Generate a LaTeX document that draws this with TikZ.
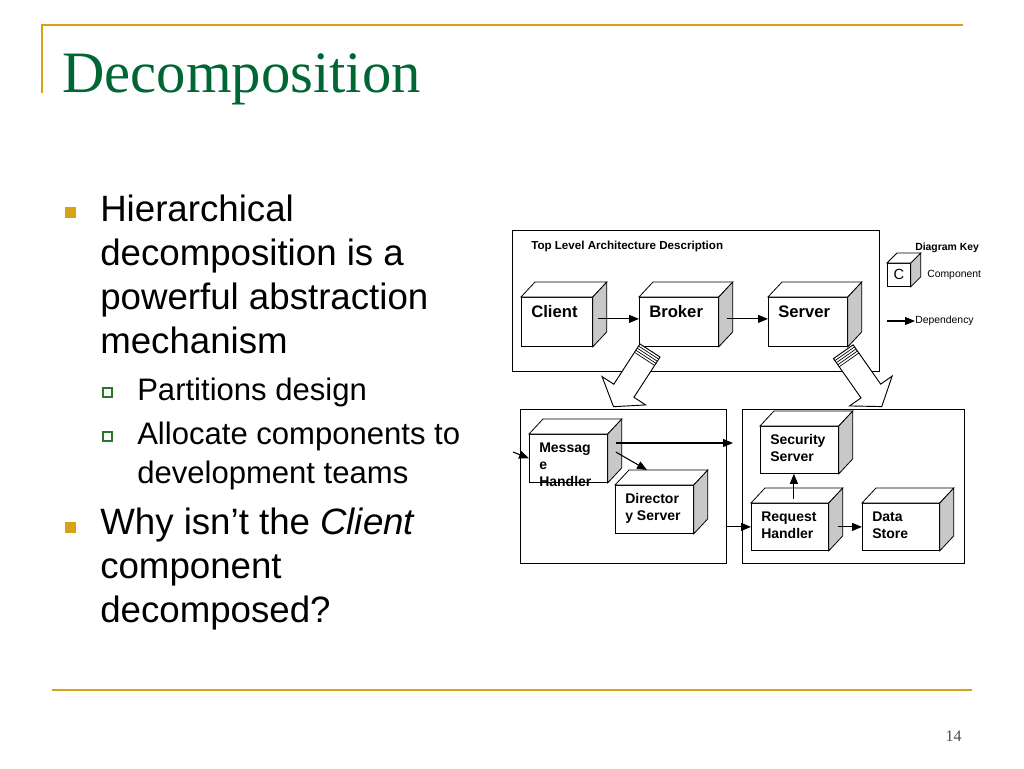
\documentclass[tikz,border=0pt]{standalone}
\usepackage{fontspec}
\setmainfont{Liberation Sans}
\newfontfamily\serif{Liberation Serif}
\usetikzlibrary{calc,arrows.meta}

\definecolor{gold}{RGB}{214,163,23}
\definecolor{titlegreen}{RGB}{0,102,51}
\definecolor{subgreen}{RGB}{40,120,40}
\definecolor{boxgray}{RGB}{200,200,200}

\tikzset{
  dep/.style={-{Triangle[length=7.5pt,width=6pt]}, line width=0.8pt},
  face/.style={draw, fill=white, line width=0.6pt, inner sep=0pt},
  frame/.style={draw, line width=0.6pt, inner sep=0pt, anchor=north west},
  bigname/.style={font=\fontsize{12.5}{15}\selectfont\bfseries},
  smallname/.style={font=\fontsize{10.5}{12.75}\selectfont\bfseries},
  keytext/.style={inner sep=0pt, font=\fontsize{7.8}{9}\selectfont},
  bodytext/.style={anchor=north west, align=left, inner sep=0pt, font=\fontsize{27.5}{33}\selectfont},
  subtext/.style={anchor=north west, align=left, inner sep=0pt, font=\fontsize{23.3}{29.25}\selectfont},
}

% component cube: style, name, x, y, width, height, text
\newcommand{\comp}[7][smallname]{%
  \node[face, anchor=north west, minimum width=#5*0.75pt, minimum height=#6*0.75pt] (#2) at (#3,#4) {};
  \filldraw[fill=white, line width=0.6pt] (#2.north west) -- ++(14,-15) -- ($(#2.north east)+(14,-15)$) -- (#2.north east) -- cycle;
  \filldraw[fill=boxgray, line width=0.6pt] (#2.north east) -- ++(14,-15) -- ($(#2.south east)+(14,-15)$) -- (#2.south east) -- cycle;
  \node[#1, anchor=north west, align=left, inner sep=0pt] (#2-t) at ($(#2.north west)+(10,8)$) {\vphantom{Hl}#7};
}

% refinement arrow: origin, angle
\newcommand{\bigarrow}[2]{%
  \begin{scope}[shift={#1}, rotate=#2]
    \filldraw[fill=white, line width=0.7pt] (-12,0) -- (-12,48) -- (-26,48) -- (0,67) -- (26,48) -- (12,48) -- (12,0) -- cycle;
    \foreach \k in {2.5,5,7.5,10} \draw[line width=0.5pt] (-12,\k) -- (12,\k);
  \end{scope}}

\begin{document}
\begin{tikzpicture}[x=0.75pt, y=-0.75pt]
  \useasboundingbox (0,0) rectangle (1024,768);
  \fill[white] (0,0) rectangle (1024,768);

  % slide
  \draw[gold, line width=1.5pt] (42,93) -- (42,25) -- (963,25);
  \draw[gold, line width=1.5pt] (52,690) -- (972,690);
  \node[anchor=base west, inner sep=0pt, text=titlegreen, font=\serif\fontsize{44}{44}\selectfont] (title) at (62,92) {Decomposition};
  \node[anchor=base east, inner sep=0pt, text=black!70, font=\serif\fontsize{12}{12}\selectfont] (page) at (962,741) {14};

  \fill[gold] (65,207) rectangle (76,218);
  \fill[gold] (65,522) rectangle (76,533);
  \draw[subgreen, line width=1pt] (103,388) rectangle (112,397);
  \draw[subgreen, line width=1pt] (103,432) rectangle (112,441);
  \node[bodytext] (hier) at (100,195) {Hierarchical\\decomposition is a\\powerful abstraction\\mechanism};
  \node[subtext] (part) at (137,378) {Partitions design};
  \node[subtext] (alloc) at (137,422) {Allocate components to\\development teams};
  \node[bodytext] (why) at (100,508) {Why isn't the \textit{Client}\\component\\decomposed?};

  % top level
  \node[frame, minimum width=367*0.75pt, minimum height=141*0.75pt] (toplevel) at (512,230) {};
  \node[anchor=north west, inner sep=0pt, font=\fontsize{8.7}{10}\selectfont\bfseries] (toptitle) at (531,241) {Top Level Architecture Description};
  \comp[bigname]{client}{521}{297}{71}{49}{Client}
  \comp[bigname]{broker}{639}{297}{79}{49}{Broker}
  \comp[bigname]{server}{768}{297}{79}{49}{Server}
  \draw[dep] ($(client.east)+(5,-3)$) -- ($(broker.west)+(0,-3)$);
  \draw[dep] ($(broker.east)+(8,-3)$) -- ($(server.west)+(0,-3)$);

  % key
  \node[keytext, anchor=north west, font=\fontsize{7.8}{9}\selectfont\bfseries] (keyhead) at (915,243) {Diagram Key};
  \node[face, anchor=north west, minimum width=23*0.75pt, minimum height=23*0.75pt, font=\fontsize{11}{11}\selectfont] (key) at (887,263) {C};
  \filldraw[fill=white, line width=0.6pt] (key.north west) -- ++(10,-10) -- ($(key.north east)+(10,-10)$) -- (key.north east) -- cycle;
  \filldraw[fill=boxgray, line width=0.6pt] (key.north east) -- ++(10,-10) -- ($(key.south east)+(10,-10)$) -- (key.south east) -- cycle;
  \node[keytext, anchor=north west] (keycomp) at (927,270) {Component};
  \node[keytext, anchor=west] (keydep) at (915,321) {Dependency};
  \coordinate (keyarr) at (887,321);
  \draw[dep] (keyarr) -- (keydep.west);

  % broker
  \node[frame, minimum width=206*0.75pt, minimum height=154*0.75pt] (leftpart) at (520,409) {};
  \comp{msghandler}{529}{434}{78}{48}{Messag\\e\\Handler}
  \comp{dirserver}{615}{485}{78}{48}{Director\\y Server}
  \coordinate (msgin) at (513,452);
  \coordinate (msgout) at (733,443);
  \draw[dep] (msgin) -- (msghandler.west);
  \draw[dep] ($(msghandler.north east)+(8,9)$) -- (msgout);
  \draw[dep] ($(msghandler.north east)+(8,18)$) -- ($(dirserver.north west)+(32,-15)$);

  % server
  \node[frame, minimum width=222*0.75pt, minimum height=154*0.75pt] (rightpart) at (742,409) {};
  \comp{secserver}{760}{426}{78}{47}{Security\\Server}
  \comp{reqhandler}{751}{503}{77}{47}{Request\\Handler}
  \comp{datastore}{862}{503}{77}{47}{Data\\Store}
  \draw[dep] (leftpart.east |- reqhandler.west) -- (reqhandler.west);
  \draw[dep] ($(reqhandler.north)+(4,-4)$) coordinate (rq) -- (rq |- secserver.south);
  \draw[dep] ($(reqhandler.east)+(9,0)$) -- (datastore.west);

  \bigarrow{(650,350.5)}{-33}
  \bigarrow{(843.3,351.7)}{35}
\end{tikzpicture}
\end{document}
